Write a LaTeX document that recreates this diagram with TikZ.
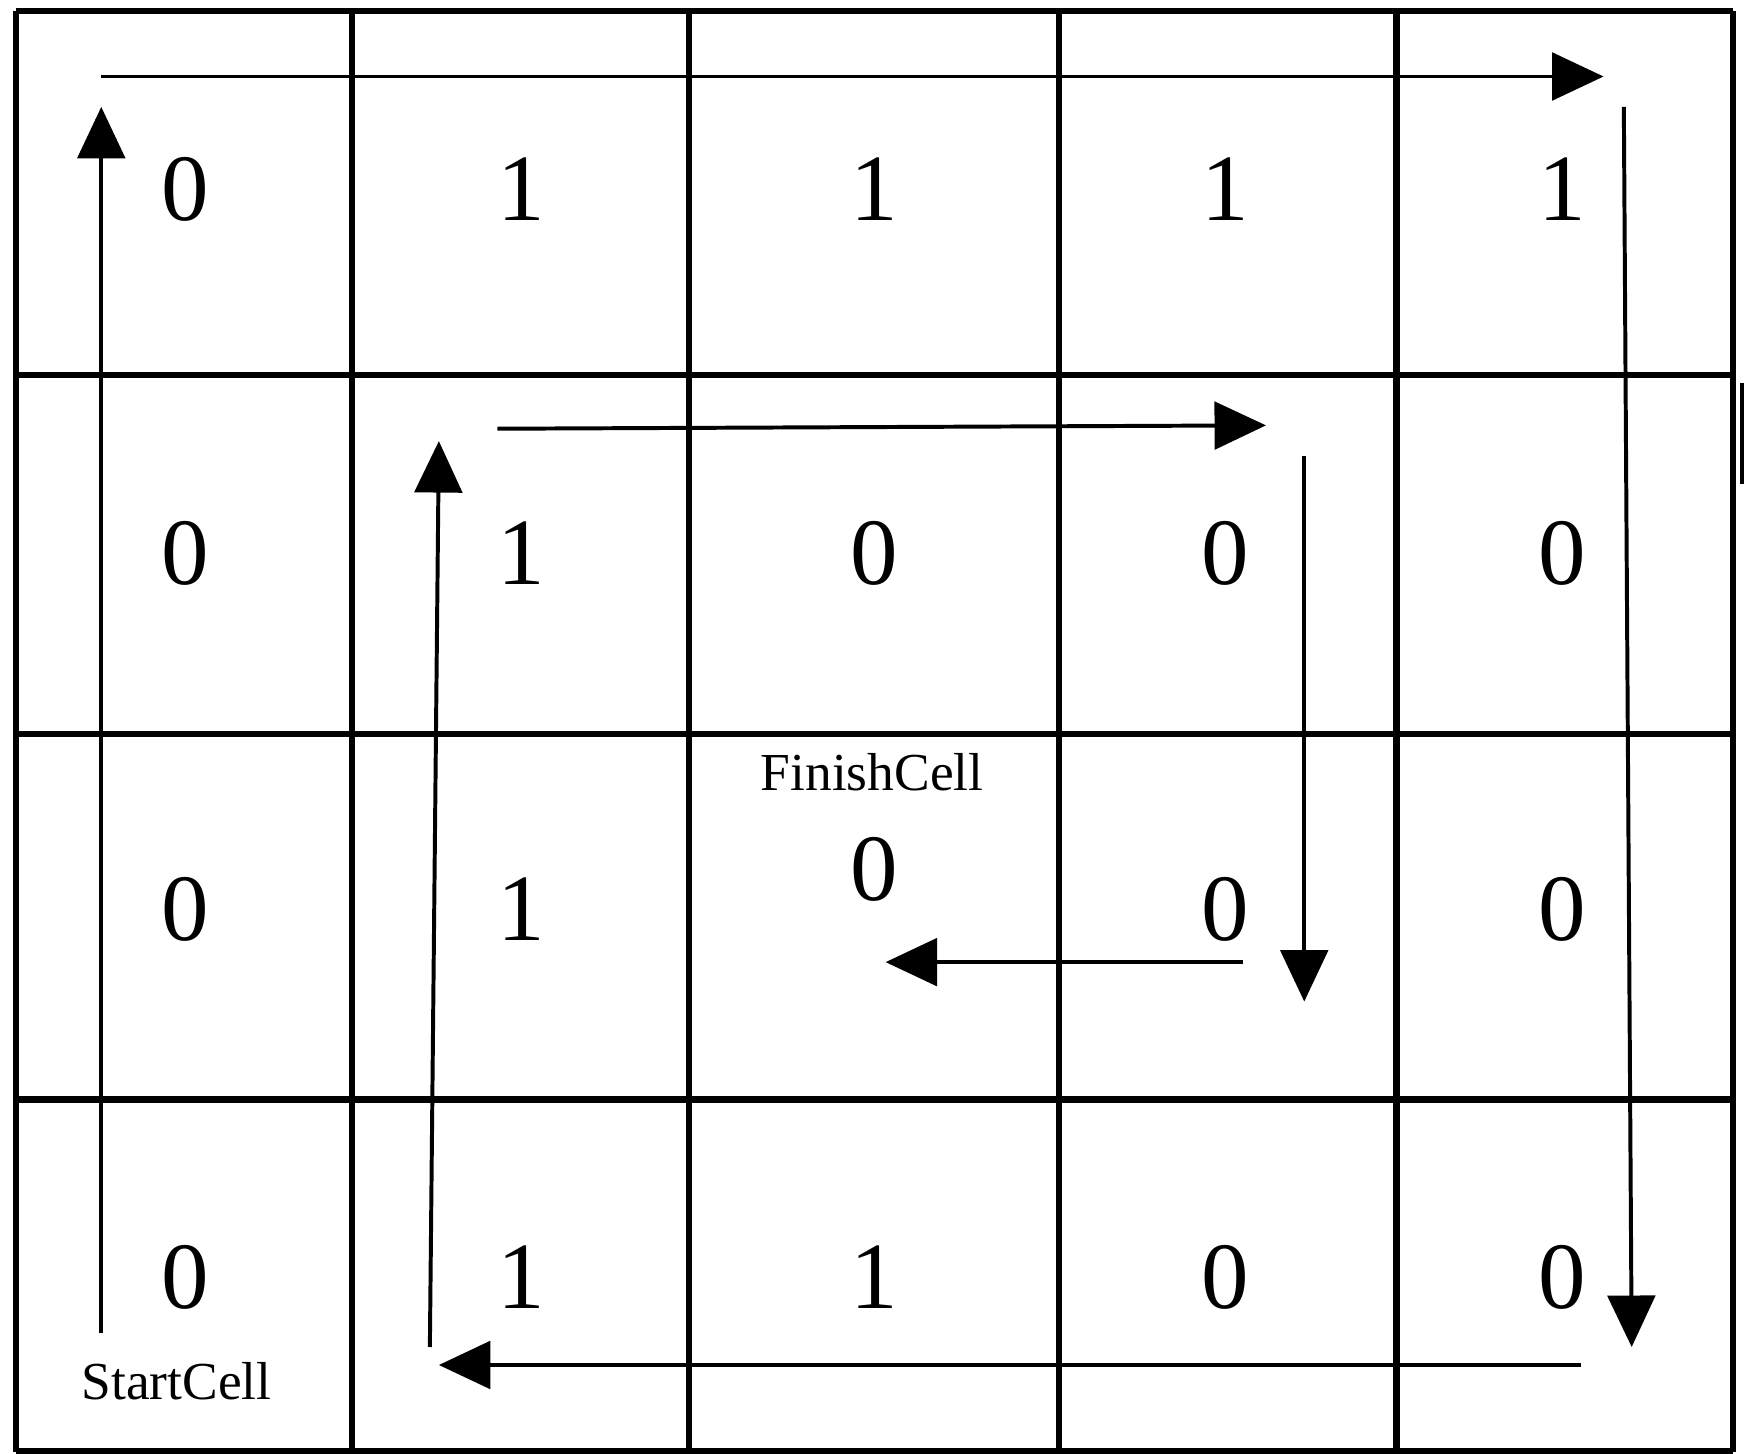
\documentclass[tikz,border=0pt]{standalone}
\usepackage{fontspec}
\setmainfont{Liberation Serif}
\usetikzlibrary{arrows.meta}
\begin{document}
\begin{tikzpicture}[x=0.01cm,y=-0.01cm,
  grid/.style={line width=1.6pt},
  path/.style={line width=1pt,-{Triangle[length=13pt,width=12pt]}},
  num/.style={font=\fontsize{24}{27}\selectfont},
  lab/.style={font=\fontsize{13.5}{15}\selectfont}]
\useasboundingbox (0,0) rectangle (1556,1292);
\foreach \x in {14,313,612,941,1241,1540} \draw[grid] (\x,10) -- (\x,1290);
\foreach \y in {10,333,652,977,1290} \draw[grid] (14,\y) -- (1540,\y);
\draw[line width=1pt] (1548,340) -- (1548,430);
% numbers
\foreach \v [count=\i] in {0,1,1,1,1} \node[num] (a\i) at ({\i==1?165:(\i==2?463:(\i==3?777:(\i==4?1089:1388)))},168) {\v};
\foreach \v [count=\i] in {0,1,0,0,0} \node[num] (b\i) at ({\i==1?165:(\i==2?463:(\i==3?777:(\i==4?1089:1388)))},492) {\v};
\foreach \v [count=\i] in {0,1,0,0,0} \node[num] (c\i) at ({\i==1?165:(\i==2?463:(\i==3?777:(\i==4?1089:1388)))},{\i==3?773:808}) {\v};
\foreach \v [count=\i] in {0,1,1,0,0} \node[num] (d\i) at ({\i==1?165:(\i==2?463:(\i==3?777:(\i==4?1089:1388)))},1135) {\v};
\node[lab] (start) at (157,1227) {StartCell};
\node[lab] (finish) at (775,686) {FinishCell};
% path coordinates
\coordinate (p1) at (90,1185);
\coordinate (p2) at (90,95);
\coordinate (p3) at (90,68);
\coordinate (p4) at (1425,68);
\coordinate (p5) at (1443,95);
\coordinate (p6) at (1450,1197);
\coordinate (p7) at (1405,1213);
\coordinate (p8) at (390,1213);
\coordinate (p9) at (382,1197);
\coordinate (p10) at (390,392);
\coordinate (p11) at (442,381);
\coordinate (p12) at (1125,378);
\coordinate (p13) at (1159,405);
\coordinate (p14) at (1159,890);
\coordinate (p15) at (1105,855);
\coordinate (p16) at (787,855);
\draw[path] (p1) -- (p2);
\draw[path] (p3) -- (p4);
\draw[path] (p5) -- (p6);
\draw[path] (p7) -- (p8);
\draw[path] (p9) -- (p10);
\draw[path] (p11) -- (p12);
\draw[path] (p13) -- (p14);
\draw[path] (p15) -- (p16);
\end{tikzpicture}
\end{document}
